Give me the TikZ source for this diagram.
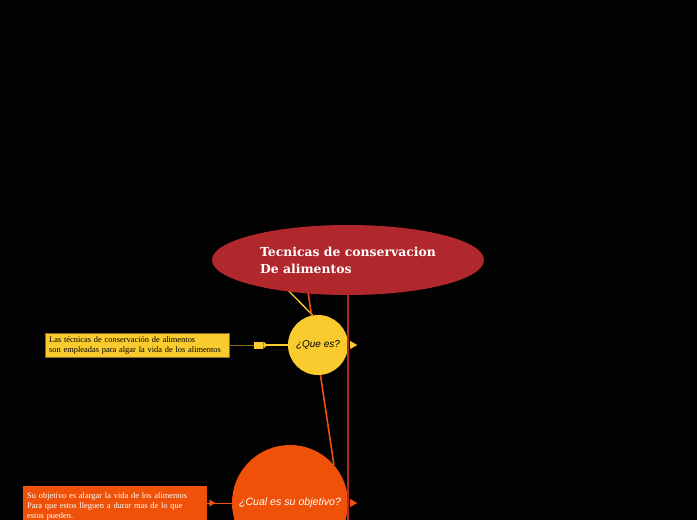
\documentclass[tikz,border=0pt]{standalone}
\usepackage{fontspec}
\setmainfont{Liberation Serif}
\newfontfamily\titlefont{DejaVu Serif}
\newfontfamily\handfont{Liberation Sans}
\usetikzlibrary{calc}
\usetikzlibrary{shapes}
\usetikzlibrary{backgrounds}
\hyphenpenalty=10000
\definecolor{bgblack}{HTML}{030203}
\definecolor{mapred}{HTML}{B0282B}
\definecolor{mapyellow}{HTML}{F9CB2F}
\definecolor{maporange}{HTML}{EE5107}
\definecolor{darkgold}{HTML}{8A6E1E}
\newcommand{\tipmark}[2]{\fill[#1] ($(#2.east)+(2,-4)$) -- ++(7,4) -- ++(-7,4) -- cycle;}
\tikzset{
  topic/.style={ellipse, fill=mapred, minimum width=272pt, minimum height=70pt, inner sep=0pt,
    text=white, align=left, font=\titlefont\bfseries\fontsize{12.4}{17}\selectfont},
  bubble/.style={circle, fill=#1, inner sep=0pt, font=\handfont\itshape\fontsize{10}{12}\selectfont},
  notebox/.style={rectangle, fill=#1, anchor=north west, text width=176pt, inner xsep=4pt,
    inner ysep=3pt, align=left, font=\fontsize{8.4}{9.8}\selectfont}
}

\begin{document}
\begin{tikzpicture}[x=1pt, y=-1pt]
        \useasboundingbox (0,0) rectangle (697,520);
        % subtopics
        \node[bubble=mapyellow, minimum size=60pt] (quees) at (318,345) {¿Que es?};
        \node[bubble=maporange, minimum size=116pt, text=white, font=\handfont\itshape\fontsize{10.6}{12}\selectfont]
            (objetivo) at (290,503) {¿Cual es su objetivo?};
        % notes
        \node[notebox=mapyellow, draw=darkgold, line width=0.4pt, minimum height=24pt] (notequees) at (45,333)
            {Las técnicas de conservación de alimentos\\son empleadas para algar la vida de los alimentos};
        \node[notebox=maporange, text=white, minimum height=40pt] (noteobjetivo) at (23,486)
            {Su objetivo es alargar la vida de los alimentos\\Para que estos lleguen a durar mas de lo que\\estos pueden.};
        % branches from the topic
        \coordinate (hub) at (348,260);
        \coordinate (yellowroot) at (272,274);
        \coordinate (orangeroot) at (305,272);
        \coordinate (redend) at (348,522);
        \begin{scope}[on background layer]
            \fill[bgblack] (0,0) rectangle (697,520);
            \draw[mapyellow, line width=1.3pt] (yellowroot) -- (quees.100);
            \draw[maporange, line width=1.6pt] (orangeroot) -- (objetivo.41);
        \end{scope}
        \draw[mapred, line width=1.6pt] (hub) -- (redend);
        \node[topic] (topic) at (hub) {Tecnicas de conservacion\\De alimentos};
        % note links
        \coordinate (yellowout) at (notequees.east |- quees.west);
        \coordinate (orangeout) at (noteobjetivo.east |- objetivo.west);
        \draw[darkgold, line width=0.8pt] (yellowout) -- (quees.west);
        \fill[mapyellow] ($(yellowout)+(25,-3.5)$) rectangle ++(9,7);
        \fill[mapyellow] ($(yellowout)+(34,-3.5)$) -- ++(4,3.5) -- ++(-4,3.5) -- cycle;
        \draw[mapyellow, line width=1.3pt] ($(yellowout)+(37,0)$) -- (quees.west);
        \draw[maporange, line width=1pt] (orangeout) -- (objetivo.west);
        \fill[maporange] ($(orangeout)+(2,-3.5)$) -- ++(0,7) -- ++(6,-3.5) -- cycle;
        % collapse marks
        \tipmark{mapyellow}{quees}
        \tipmark{maporange}{objetivo}
    \end{tikzpicture}
\end{document}
